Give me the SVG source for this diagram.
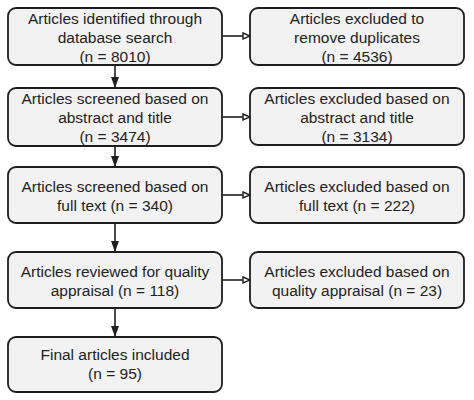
<svg xmlns="http://www.w3.org/2000/svg" width="474" height="400" viewBox="0 0 474 400">
<style>
.box{fill:#f2f2f2;stroke:#1e1e1e;stroke-width:1.8}
.t{font-family:"Liberation Sans",Arial,sans-serif;font-size:15.5px;fill:#222;text-anchor:middle}
.c{stroke:#1e1e1e;stroke-width:1.6;fill:none}
</style>
<defs>
<marker id="fa" markerWidth="12" markerHeight="10" refX="11" refY="5" orient="auto" markerUnits="userSpaceOnUse">
<path d="M0,1 L11,5 L0,9 Z" fill="#1e1e1e"/>
</marker>
<marker id="oa" markerWidth="10" markerHeight="10" refX="9" refY="5" orient="auto" markerUnits="userSpaceOnUse">
<path d="M2,2 L9,5 L2,8 Z" fill="#fff" stroke="#1e1e1e" stroke-width="1.4"/>
</marker>
</defs>
<rect width="474" height="400" fill="#fff"/>
<g id="connectors">
<line class="c" x1="115" y1="65" x2="115" y2="88" marker-end="url(#fa)"/>
<line class="c" x1="115" y1="146" x2="115" y2="167" marker-end="url(#fa)"/>
<line class="c" x1="115" y1="223" x2="115" y2="252" marker-end="url(#fa)"/>
<line class="c" x1="115" y1="308" x2="115" y2="337" marker-end="url(#fa)"/>
<line class="c" x1="222" y1="36" x2="250" y2="36" marker-end="url(#oa)"/>
<line class="c" x1="222" y1="117" x2="250" y2="117" marker-end="url(#oa)"/>
<line class="c" x1="222" y1="195" x2="250" y2="195" marker-end="url(#oa)"/>
<line class="c" x1="222" y1="280" x2="250" y2="280" marker-end="url(#oa)"/>
</g>
<g id="n1"><rect class="box" x="8" y="8" width="214" height="57" rx="8"/>
<text class="t" x="115" y="23.5">Articles identified through</text>
<text class="t" x="115" y="42.5">database search</text>
<text class="t" x="115" y="61.5">(n = 8010)</text></g>
<g id="n2"><rect class="box" x="8" y="88" width="214" height="58" rx="8"/>
<text class="t" x="115" y="103.5">Articles screened based on</text>
<text class="t" x="115" y="122.5">abstract and title</text>
<text class="t" x="115" y="141.5">(n = 3474)</text></g>
<g id="n3"><rect class="box" x="8" y="167" width="214" height="56" rx="8"/>
<text class="t" x="115" y="192">Articles screened based on</text>
<text class="t" x="115" y="211">full text (n = 340)</text></g>
<g id="n4"><rect class="box" x="8" y="252" width="214" height="56" rx="8"/>
<text class="t" x="115" y="276.5">Articles reviewed for quality</text>
<text class="t" x="115" y="295.5">appraisal (n = 118)</text></g>
<g id="n5"><rect class="box" x="8" y="337" width="214" height="55" rx="8"/>
<text class="t" x="115" y="360">Final articles included</text>
<text class="t" x="115" y="379">(n = 95)</text></g>
<g id="e1"><rect class="box" x="250" y="8" width="214" height="57" rx="8"/>
<text class="t" x="357" y="23.5">Articles excluded to</text>
<text class="t" x="357" y="42.5">remove duplicates</text>
<text class="t" x="357" y="61.5">(n = 4536)</text></g>
<g id="e2"><rect class="box" x="250" y="88" width="214" height="57" rx="8"/>
<text class="t" x="357" y="103.5">Articles excluded based on</text>
<text class="t" x="357" y="122.5">abstract and title</text>
<text class="t" x="357" y="141.5">(n = 3134)</text></g>
<g id="e3"><rect class="box" x="250" y="167" width="214" height="56" rx="8"/>
<text class="t" x="357" y="192">Articles excluded based on</text>
<text class="t" x="357" y="211">full text (n = 222)</text></g>
<g id="e4"><rect class="box" x="250" y="252" width="214" height="56" rx="8"/>
<text class="t" x="357" y="276.5">Articles excluded based on</text>
<text class="t" x="357" y="295.5">quality appraisal (n = 23)</text></g>
</svg>
